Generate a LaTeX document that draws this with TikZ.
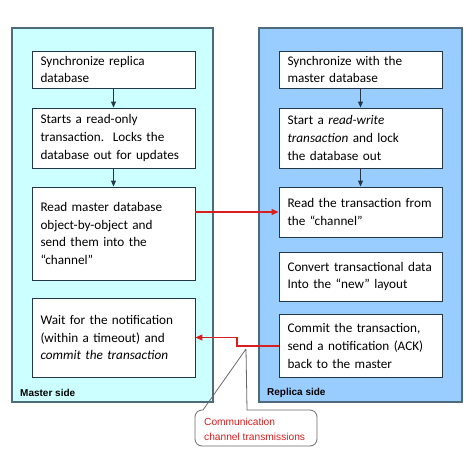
\documentclass[tikz,border=0pt]{standalone}
\usepackage{fontspec}
\setmainfont{Carlito}
\newfontfamily\arialfont{Liberation Sans}
\usetikzlibrary{arrows.meta}

\definecolor{masterfill}{HTML}{CCFFFF}
\definecolor{replicafill}{HTML}{99CCFF}
\definecolor{panelline}{HTML}{4F6A78}
\definecolor{blockline}{HTML}{22384A}
\definecolor{sigred}{HTML}{D81E1E}
\definecolor{calloutline}{HTML}{6A6A6A}

\begin{document}
\begin{tikzpicture}[x=1pt,y=-1pt,
  side/.style={rectangle,draw=panelline,line width=1.2pt,minimum height=374pt},
  block/.style={rectangle,draw=blockline,fill=white,line width=0.9pt,minimum width=163pt,
    text width=146pt,inner xsep=8.5pt,align=left,font=\fontsize{13.2}{17.6}\selectfont},
  sidelabel/.style={anchor=west,inner sep=0pt,font=\arialfont\bfseries\fontsize{10}{12}\selectfont},
  flow/.style={-{Triangle[length=6pt,width=5pt]},draw=blockline,line width=0.9pt},
  signal/.style={-{Triangle[length=7pt,width=6pt]},draw=sigred,line width=1.1pt}]
\useasboundingbox (0,0) rectangle (474,474);

% the two sides
\node at (112.5,215) (master)  [side,fill=masterfill,minimum width=201pt] {};
\node at (360.5,215) (replica) [side,fill=replicafill,minimum width=203pt] {};
\node at (20,393)  (masterlabel)  [sidelabel] {Master side};
\node at (267,393) (replicalabel) [sidelabel] {Replica side};

% master side steps
\node at (113.5,69.5)  (M1) [block,minimum height=37pt] {Synchronize replica\\database};
\node at (113.5,138)   (M2) [block,minimum height=60pt] {Starts a read-only\\transaction.\ \ Locks the\\database out for updates};
\node at (113.5,233.5) (M3) [block,minimum height=93pt] {Read master database\\object-by-object and\\send them into the\\“channel”};
\node at (113.5,337.5) (M4) [block,minimum height=79pt] {Wait for the notification\\(within a timeout) and\\\textit{commit the transaction}};

% replica side steps
\node at (360.5,69.5)  (R1) [block,minimum height=37pt] {Synchronize with the\\master database};
\node at (360.5,138)   (R2) [block,minimum height=60pt] {Start a \textit{read-write}\\\textit{transaction} and lock\\the database out};
\node at (360.5,212)   (R3) [block,minimum height=50pt] {Read the transaction from\\the “channel”};
\node at (360.5,276.5) (R4) [block,minimum height=49pt] {Convert transactional data\\Into the “new” layout};
\node at (360.5,346)   (R5) [block,minimum height=63pt] {Commit the transaction,\\send a notification (ACK)\\back to the master};

\draw [flow] (M1.south) -- (M2.north);
\draw [flow] (M2.south) -- (M3.north);
\draw [flow] (R1.south) -- (R2.north);
\draw [flow] (R2.south) -- (R3.north);

% channel
\coordinate (kink) at (237,0);
\draw [signal] (M3.east |- R3.west) -- (R3.west);
\draw [signal] (R5.west) -- (R5.west -| kink) |- (M4.east);

% callout
\coordinate (tip) at (246,349);
\node at (204,429.5) (comm) [anchor=west,align=left,inner sep=0pt,text=sigred,
  font=\arialfont\fontsize{10.2}{15}\selectfont] {Communication\\channel transmissions};
\draw [calloutline,line width=0.8pt] (tip) -- (203,410) [rounded corners=7pt] -- (195,410) -- (195,446)
  -- (317,446) -- (317,410) [sharp corners] -- (247,410) -- (tip);
\end{tikzpicture}
\end{document}
